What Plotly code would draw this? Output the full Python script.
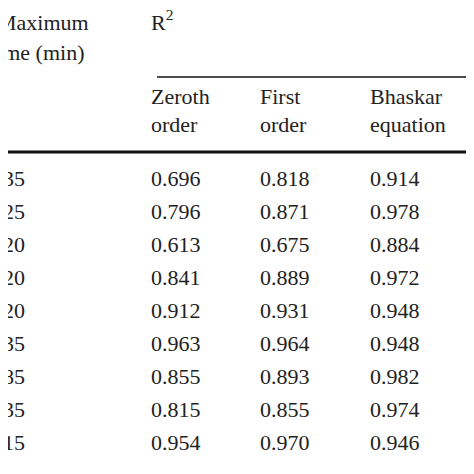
import plotly.graph_objects as go

max_time = ["35", "25", "20", "20", "20", "35", "85", "35", "15"]
zeroth = ["0.696", "0.796", "0.613", "0.841", "0.912", "0.963", "0.855", "0.815", "0.954"]
first = ["0.818", "0.871", "0.675", "0.889", "0.931", "0.964", "0.893", "0.855", "0.970"]
bhaskar = ["0.914", "0.978", "0.884", "0.972", "0.948", "0.948", "0.982", "0.974", "0.946"]

row_y = [172 + 33 * i for i in range(len(zeroth))]
col_x = [-5, 143, 252, 362]
font = dict(family="Liberation Serif, DejaVu Serif, serif", size=22, color="#222")

fig = go.Figure()
for x, col in zip(col_x, [max_time, zeroth, first, bhaskar]):
    fig.add_trace(go.Scatter(x=[x] * len(col), y=row_y, text=col, mode="text",
                             textposition="middle right", textfont=font, hoverinfo="skip"))

# header texts
hx = [-11, -17, 143, 143, 143, 252, 252, 362, 362]
hy = [16, 46, 16, 90, 118, 90, 118, 90, 118]
ht = ["Maximum", "time (min)", "R<sup>2</sup>", "Zeroth", "order", "First", "order", "Bhaskar", "equation"]
fig.add_trace(go.Scatter(x=hx, y=hy, text=ht, mode="text", textposition="middle right",
                         textfont=font, hoverinfo="skip"))

fig.add_shape(type="line", x0=149, x1=480, y0=69, y1=69, line=dict(color="#111", width=1.5))
fig.add_shape(type="line", x0=-10, x1=480, y0=144, y1=144, line=dict(color="#111", width=3))

fig.update_layout(
    width=474, height=474, margin=dict(l=0, r=0, t=0, b=0),
    paper_bgcolor="white", plot_bgcolor="white", showlegend=False,
    xaxis=dict(range=[0, 474], visible=False, fixedrange=True),
    yaxis=dict(range=[474, 0], visible=False, fixedrange=True),
)
fig.write_html("out.html")
